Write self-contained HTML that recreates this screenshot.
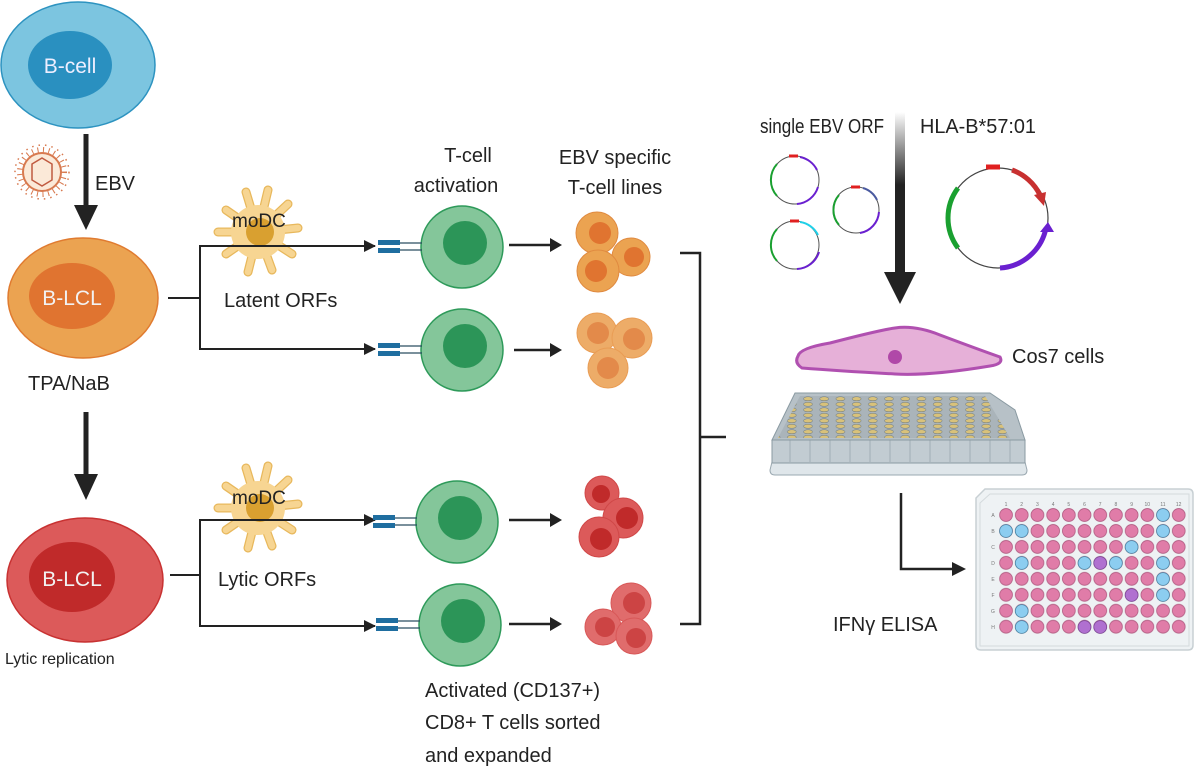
<!DOCTYPE html>
<html><head><meta charset="utf-8"><style>
html,body{margin:0;padding:0;background:#fff;}
svg{display:block;font-family:"Liberation Sans",sans-serif;}
</style></head><body>
<svg width="1200" height="774" viewBox="0 0 1200 774" xmlns="http://www.w3.org/2000/svg">
<defs>
<linearGradient id="gr" x1="0" y1="0" x2="0" y2="1"><stop offset="0" stop-color="#fff"/><stop offset="0.45" stop-color="#222"/><stop offset="1" stop-color="#222"/></linearGradient>
<pattern id="wp" x="998.2" y="507" width="15.7" height="15.96" patternUnits="userSpaceOnUse"><circle cx="7.85" cy="7.98" r="6.4" fill="#e07ca8" stroke="#b05a80" stroke-width="0.8"/></pattern>
<pattern id="yw" x="800" y="396" width="16.2" height="5.5" patternUnits="userSpaceOnUse"><rect width="16.2" height="5.5" fill="#aab4ba"/><ellipse cx="8" cy="2.8" rx="4.5" ry="2" fill="#d9c27a" stroke="#6f7c83" stroke-width="0.5"/></pattern>
<g id="dc">
<g stroke="#e8b85c" stroke-width="9" stroke-linecap="round" fill="none">
<path d="M0,0 L-32,-22"/><path d="M0,0 L-12,-40"/><path d="M0,0 L10,-42"/><path d="M0,0 L30,-28"/><path d="M0,0 L40,-4"/><path d="M0,0 L34,22"/><path d="M0,0 L14,38"/><path d="M0,0 L-10,40"/><path d="M0,0 L-32,22"/><path d="M0,0 L-40,0"/>
</g>
<g stroke="#f7d592" stroke-width="6.5" stroke-linecap="round" fill="none">
<path d="M0,0 L-32,-22"/><path d="M0,0 L-12,-40"/><path d="M0,0 L10,-42"/><path d="M0,0 L30,-28"/><path d="M0,0 L40,-4"/><path d="M0,0 L34,22"/><path d="M0,0 L14,38"/><path d="M0,0 L-10,40"/><path d="M0,0 L-32,22"/><path d="M0,0 L-40,0"/>
</g>
<circle r="27" fill="#f7d592"/>
<circle cx="2" cy="0" r="14" fill="#d9a030"/></g>
<g id="tc"><circle r="41" fill="#84c69a" stroke="#2e9a5a" stroke-width="1.5"/><circle cx="3" cy="-4" r="22" fill="#2c9558"/><rect x="-84" y="-7" width="22" height="5" fill="#1f6ea0"/><rect x="-84" y="1" width="22" height="5" fill="#1f6ea0"/><line x1="-62" y1="-4" x2="-40" y2="-4" stroke="#2a4e60" stroke-width="1.3"/><line x1="-62" y1="3" x2="-40" y2="3" stroke="#2a4e60" stroke-width="1.3"/></g>
</defs>

<!-- B-cell -->
<ellipse cx="78" cy="65" rx="77" ry="63" fill="#7cc5e0" stroke="#2d93c0" stroke-width="1.5"/>
<ellipse cx="70" cy="65" rx="42" ry="34" fill="#2a90c0"/>
<text x="70" y="73" font-size="21" fill="#eef" text-anchor="middle">B-cell</text>
<line x1="86" y1="134" x2="86" y2="210" stroke="#222" stroke-width="5"/>
<path d="M74,205 L98,205 L86,230z" fill="#222"/>
<text x="95" y="190" font-size="20" fill="#222">EBV</text>
<circle cx="42" cy="172" r="27" fill="none" stroke="#d87a50" stroke-width="1.5" stroke-dasharray="1.5 5"/>
<circle cx="42" cy="172" r="22" fill="none" stroke="#d87a50" stroke-width="6" stroke-dasharray="1 4.5"/>
<circle cx="42" cy="172" r="19" fill="#fbe9d8" stroke="#d87a50" stroke-width="2"/>
<path d="M32,164 L42,158 L52,164 L52,180 L42,186 L32,180z" fill="none" stroke="#c05a40" stroke-width="1.5"/>

<!-- B-LCL orange -->
<ellipse cx="83" cy="298" rx="75" ry="60" fill="#eba351" stroke="#e07b30" stroke-width="1.5"/>
<ellipse cx="72" cy="296" rx="43" ry="33" fill="#e07430"/>
<text x="72" y="305" font-size="21" fill="#f2f2f2" text-anchor="middle">B-LCL</text>
<polyline points="168,298 200,298" fill="none" stroke="#222" stroke-width="2"/>
<use href="#dc" x="258" y="232"/>
<polyline points="375,246 200,246 200,349 375,349" fill="none" stroke="#222" stroke-width="2"/>
<path d="M364,240 L376,246 L364,252z M364,343 L376,349 L364,355z" fill="#222"/>
<text x="232" y="227" font-size="19" fill="#222">moDC</text>
<text x="224" y="307" font-size="20" fill="#222">Latent ORFs</text>

<text x="28" y="390" font-size="20" fill="#222">TPA/NaB</text>
<line x1="86" y1="412" x2="86" y2="478" stroke="#222" stroke-width="5"/>
<path d="M74,474 L98,474 L86,500z" fill="#222"/>

<!-- B-LCL red -->
<ellipse cx="85" cy="580" rx="78" ry="62" fill="#dc5a5a" stroke="#c83232" stroke-width="1.5"/>
<ellipse cx="72" cy="577" rx="43" ry="35" fill="#c02a2a"/>
<text x="72" y="586" font-size="21" fill="#f2f2f2" text-anchor="middle">B-LCL</text>
<text x="5" y="664" font-size="16" fill="#222">Lytic replication</text>
<polyline points="170,575 200,575" fill="none" stroke="#222" stroke-width="2"/>
<use href="#dc" x="258" y="508"/>
<polyline points="375,520 200,520 200,626 375,626" fill="none" stroke="#222" stroke-width="2"/>
<path d="M364,514 L376,520 L364,526z M364,620 L376,626 L364,632z" fill="#222"/>
<text x="232" y="504" font-size="19" fill="#222">moDC</text>
<text x="218" y="586" font-size="20" fill="#222">Lytic ORFs</text>

<!-- T cells -->
<use href="#tc" x="462" y="247"/>
<use href="#tc" x="462" y="350"/>
<use href="#tc" x="457" y="522"/>
<use href="#tc" x="460" y="625"/>
<text x="468" y="162" font-size="20" fill="#222" text-anchor="middle">T-cell</text>
<text x="456" y="192" font-size="20" fill="#222" text-anchor="middle">activation</text>
<text x="615" y="164" font-size="20" fill="#222" text-anchor="middle">EBV specific</text>
<text x="615" y="194" font-size="20" fill="#222" text-anchor="middle">T-cell lines</text>
<g stroke="#222" stroke-width="2.5">
<line x1="509" y1="245" x2="552" y2="245"/><line x1="514" y1="350" x2="552" y2="350"/>
<line x1="509" y1="520" x2="552" y2="520"/><line x1="509" y1="624" x2="552" y2="624"/>
</g>
<path d="M550,238 L562,245 L550,252z M550,343 L562,350 L550,357z M550,513 L562,520 L550,527z M550,617 L562,624 L550,631z" fill="#222"/>

<!-- clusters -->
<g fill="#eba351" stroke="#e08a40" stroke-width="1"><circle cx="597" cy="233" r="21"/><circle cx="631" cy="257" r="19"/><circle cx="598" cy="271" r="21"/></g>
<g fill="#e07430"><circle cx="600" cy="233" r="11"/><circle cx="634" cy="257" r="10"/><circle cx="596" cy="271" r="11"/></g>
<g fill="#eda860" stroke="#e8984c" stroke-width="1" opacity="0.95"><circle cx="597" cy="333" r="20"/><circle cx="632" cy="338" r="20"/><circle cx="608" cy="368" r="20"/></g>
<g fill="#e38a4a"><circle cx="598" cy="333" r="11"/><circle cx="634" cy="339" r="11"/><circle cx="608" cy="368" r="11"/></g>
<g fill="#dc5a5a" stroke="#d04848" stroke-width="1"><circle cx="602" cy="493" r="17"/><circle cx="623" cy="518" r="20"/><circle cx="599" cy="537" r="20"/></g>
<g fill="#c02a2a"><circle cx="601" cy="494" r="9"/><circle cx="627" cy="518" r="11"/><circle cx="601" cy="539" r="11"/></g>
<g fill="#e06c6c" stroke="#d85858" stroke-width="1"><circle cx="631" cy="603" r="20"/><circle cx="603" cy="627" r="18"/><circle cx="634" cy="636" r="18"/></g>
<g fill="#cc4444"><circle cx="634" cy="603" r="11"/><circle cx="605" cy="627" r="10"/><circle cx="636" cy="638" r="10"/></g>

<!-- bracket -->
<polyline points="680,253 700,253 700,624 680,624" fill="none" stroke="#222" stroke-width="2.5"/>
<line x1="700" y1="437" x2="726" y2="437" stroke="#222" stroke-width="2.5"/>

<text x="425" y="697" font-size="20" fill="#222">Activated (CD137+)</text>
<text x="425" y="729" font-size="20" fill="#222">CD8+  T cells sorted</text>
<text x="425" y="762" font-size="20" fill="#222">and expanded</text>

<!-- right top -->
<text x="760" y="133" font-size="20" fill="#222" textLength="124" lengthAdjust="spacingAndGlyphs">single EBV ORF</text>
<text x="920" y="133" font-size="20" fill="#222" textLength="116" lengthAdjust="spacingAndGlyphs">HLA-B*57:01</text>
<rect x="895" y="112" width="10" height="162" fill="url(#gr)"/>
<path d="M884,272 L916,272 L900,304z" fill="#222"/>

<!-- small plasmids -->
<g fill="none" stroke-width="1">
<circle cx="795" cy="180" r="24" stroke="#555"/>
<path d="M777,164 A24,24 0 0,0 777,196" stroke="#1aa030" stroke-width="2"/>
<path d="M800,157 A24,24 0 0,1 817,170" stroke="#6a20d0" stroke-width="2"/>
<path d="M818,187 A24,24 0 0,1 797,204" stroke="#6a20d0" stroke-width="2"/>
<line x1="789" y1="156" x2="798" y2="156" stroke="#e02020" stroke-width="3"/>
<circle cx="856" cy="210" r="23" stroke="#555"/>
<path d="M839,195 A23,23 0 0,0 839,225" stroke="#1aa030" stroke-width="2"/>
<path d="M863,188 A23,23 0 0,1 877,200" stroke="#4a5aa0" stroke-width="2"/>
<path d="M879,212 A23,23 0 0,1 860,233" stroke="#6a20d0" stroke-width="2"/>
<line x1="851" y1="187" x2="860" y2="187" stroke="#e02020" stroke-width="3"/>
<circle cx="795" cy="245" r="24" stroke="#555"/>
<path d="M777,229 A24,24 0 0,0 777,261" stroke="#1aa030" stroke-width="2"/>
<path d="M800,222 A24,24 0 0,1 818,235" stroke="#20d0e8" stroke-width="2"/>
<path d="M819,252 A24,24 0 0,1 797,269" stroke="#6a20d0" stroke-width="2"/>
<line x1="790" y1="221" x2="799" y2="221" stroke="#e02020" stroke-width="3"/>
<circle cx="998" cy="218" r="50" stroke="#444" stroke-width="1.2"/>
<path d="M958,188 A50,50 0 0,0 958,248" stroke="#1aa030" stroke-width="5"/>
<path d="M1012,170 A50,50 0 0,1 1040,195" stroke="#c83030" stroke-width="5"/>
<path d="M1046,228 A50,50 0 0,1 1000,268" stroke="#6a20d0" stroke-width="5"/>
<line x1="986" y1="167" x2="1000" y2="167" stroke="#e02020" stroke-width="5"/>
</g>
<path d="M1034,195 L1046,192 L1044,206z" fill="#c83030"/>
<path d="M1040,232 L1048,222 L1054,232z" fill="#6a20d0"/>

<!-- Cos7 -->
<path d="M798,356 Q800,348 830,343 Q880,330 895,328 Q915,325 940,335 Q980,350 1000,357 Q1004,364 990,366 Q930,376 895,374 Q840,371 802,368 Q794,363 798,356z" fill="#e6b0d8" stroke="#b050b0" stroke-width="3"/>
<circle cx="895" cy="357" r="7" fill="#b048a8"/>
<text x="1012" y="363" font-size="20" fill="#222">Cos7 cells</text>

<!-- 3D plate -->
<path d="M772,462 L770,470 Q770,475 775,475 L1022,475 Q1027,475 1027,470 L1025,462z" fill="#dfe6ea" stroke="#9aa8b0"/>
<rect x="772" y="440" width="253" height="23" fill="#c2ccd2" stroke="#8a9aa2"/>
<path d="M795,393 L990,393 L1015,410 L1025,440 L772,440z" fill="#b7c1c7" stroke="#8a9aa2"/>
<path d="M800,396 L985,396 L1010,438 L778,438z" fill="url(#yw)"/>
<g stroke="#8a9aa2" stroke-width="0.6">
<line x1="790" y1="440" x2="790" y2="462"/><line x1="810" y1="440" x2="810" y2="462"/><line x1="830" y1="440" x2="830" y2="462"/><line x1="850" y1="440" x2="850" y2="462"/><line x1="870" y1="440" x2="870" y2="462"/><line x1="890" y1="440" x2="890" y2="462"/><line x1="910" y1="440" x2="910" y2="462"/><line x1="930" y1="440" x2="930" y2="462"/><line x1="950" y1="440" x2="950" y2="462"/><line x1="970" y1="440" x2="970" y2="462"/><line x1="990" y1="440" x2="990" y2="462"/><line x1="1010" y1="440" x2="1010" y2="462"/>
</g>

<!-- ELISA arrow -->
<polyline points="901,493 901,569 955,569" fill="none" stroke="#222" stroke-width="2.5"/>
<path d="M952,562 L966,569 L952,576z" fill="#222"/>
<text x="833" y="631" font-size="20" fill="#222">IFNγ ELISA</text>

<!-- ELISA plate -->
<path d="M985,489 L1188,489 Q1193,489 1193,494 L1193,645 Q1193,650 1188,650 L981,650 Q976,650 976,645 L976,498z" fill="#eef2f4" stroke="#c8d0d4" stroke-width="1.5"/>
<path d="M990,494 L1189,494 L1189,646 L980,646 L980,503z" fill="none" stroke="#d4dadd"/>
<rect x="998.2" y="507" width="188.4" height="127.7" fill="url(#wp)"/>
<g font-size="5" fill="#777" text-anchor="middle">
<text x="1006" y="506">1</text><text x="1021.7" y="506">2</text><text x="1037.4" y="506">3</text><text x="1053.1" y="506">4</text><text x="1068.8" y="506">5</text><text x="1084.5" y="506">6</text><text x="1100.2" y="506">7</text><text x="1115.9" y="506">8</text><text x="1131.6" y="506">9</text><text x="1147.3" y="506">10</text><text x="1163" y="506">11</text><text x="1178.7" y="506">12</text>
<text x="993" y="517">A</text><text x="993" y="533">B</text><text x="993" y="549">C</text><text x="993" y="565">D</text><text x="993" y="581">E</text><text x="993" y="597">F</text><text x="993" y="613">G</text><text x="993" y="629">H</text>
</g>
<g fill="#8ccdf0" stroke="#4a8aa8" stroke-width="0.8">
<circle cx="1163" cy="515" r="6.4"/><circle cx="1006" cy="531" r="6.4"/><circle cx="1021.7" cy="531" r="6.4"/><circle cx="1163" cy="531" r="6.4"/><circle cx="1131.6" cy="547" r="6.4"/><circle cx="1021.7" cy="563" r="6.4"/><circle cx="1084.5" cy="563" r="6.4"/><circle cx="1115.9" cy="563" r="6.4"/><circle cx="1163" cy="563" r="6.4"/><circle cx="1163" cy="579" r="6.4"/><circle cx="1163" cy="595" r="6.4"/><circle cx="1021.7" cy="611" r="6.4"/><circle cx="1021.7" cy="627" r="6.4"/>
</g>
<g fill="#b070d0" stroke="#7a4a98" stroke-width="0.8">
<circle cx="1100.2" cy="563" r="6.4"/><circle cx="1131.6" cy="595" r="6.4"/><circle cx="1084.5" cy="627" r="6.4"/><circle cx="1100.2" cy="627" r="6.4"/>
</g>
</svg>
</body></html>
